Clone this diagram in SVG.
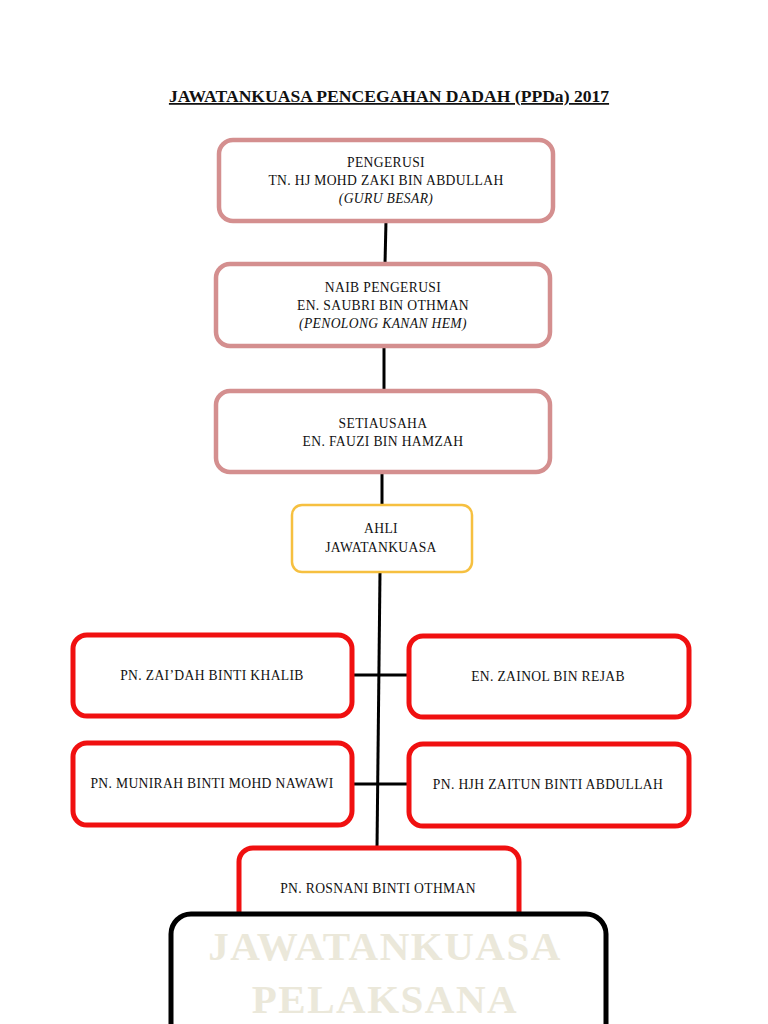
<svg xmlns="http://www.w3.org/2000/svg" width="768" height="1024" viewBox="0 0 768 1024">
<style>
.t{font-family:"Liberation Serif","Times New Roman",serif;font-size:13.6px;letter-spacing:0.35px;fill:#111;text-anchor:middle}
.i{font-style:italic}
.pink{fill:#fff;stroke:#d48f8f;stroke-width:4.5}
.yel{fill:#fff;stroke:#f6c040;stroke-width:2.5}
.red{fill:#fff;stroke:#f01010;stroke-width:5}
.conn{stroke:#000;stroke-width:3;fill:none}
.big{font-family:"Liberation Serif","Times New Roman",serif;font-size:41px;font-weight:bold;text-anchor:middle;letter-spacing:1.5px;fill:#ebe8da}
</style>
<rect width="768" height="1024" fill="#fff"/>
<text x="389" y="102" style="font-family:'Liberation Serif',serif;font-size:17.6px;font-weight:bold;text-anchor:middle;text-decoration:underline" fill="#111">JAWATANKUASA PENCEGAHAN DADAH (PPDa) 2017</text>
<g id="connectors">
<line class="conn" x1="386" y1="221" x2="385" y2="264"/>
<line class="conn" x1="384" y1="346" x2="384" y2="391"/>
<line class="conn" x1="382" y1="472" x2="382" y2="505"/>
<line class="conn" x1="380" y1="572" x2="377" y2="848"/>
<line class="conn" x1="352" y1="675" x2="409" y2="675"/>
<line class="conn" x1="352" y1="784" x2="409" y2="784"/>
</g>
<g id="n1"><rect class="pink" x="219" y="140" width="334" height="81" rx="14"/>
<text class="t" x="386" y="167">PENGERUSI</text>
<text class="t" x="386" y="185">TN. HJ MOHD ZAKI BIN ABDULLAH</text>
<text class="t i" x="386" y="203">(GURU BESAR)</text></g>
<g id="n2"><rect class="pink" x="216" y="264" width="334" height="82" rx="14"/>
<text class="t" x="383" y="292">NAIB PENGERUSI</text>
<text class="t" x="383" y="310">EN. SAUBRI BIN OTHMAN</text>
<text class="t i" x="383" y="328">(PENOLONG KANAN HEM)</text></g>
<g id="n3"><rect class="pink" x="216" y="391" width="334" height="81" rx="14"/>
<text class="t" x="383" y="428">SETIAUSAHA</text>
<text class="t" x="383" y="446">EN. FAUZI BIN HAMZAH</text></g>
<g id="n4"><rect class="yel" x="292" y="505" width="180" height="67" rx="10"/>
<text class="t" x="381" y="533">AHLI</text>
<text class="t" x="381" y="552">JAWATANKUASA</text></g>
<g id="n5"><rect class="red" x="73" y="635" width="279" height="81" rx="14"/>
<text class="t" x="212" y="680">PN. ZAI’DAH BINTI KHALIB</text></g>
<g id="n6"><rect class="red" x="409" y="636" width="280" height="81" rx="14"/>
<text class="t" x="548" y="681">EN. ZAINOL BIN REJAB</text></g>
<g id="n7"><rect class="red" x="73" y="743" width="279" height="82" rx="14"/>
<text class="t" x="212" y="788">PN. MUNIRAH BINTI MOHD NAWAWI</text></g>
<g id="n8"><rect class="red" x="409" y="744" width="280" height="82" rx="14"/>
<text class="t" x="548" y="789">PN. HJH ZAITUN BINTI ABDULLAH</text></g>
<g id="n9"><rect class="red" x="239" y="848" width="280" height="90" rx="14"/>
<text class="t" x="378" y="893">PN. ROSNANI BINTI OTHMAN</text></g>
<g id="n10"><rect x="171" y="914" width="435" height="160" rx="20" fill="#fff" stroke="#000" stroke-width="5"/>
<text class="big" x="385" y="960">JAWATANKUASA</text>
<text class="big" x="385" y="1013">PELAKSANA</text></g>
</svg>
